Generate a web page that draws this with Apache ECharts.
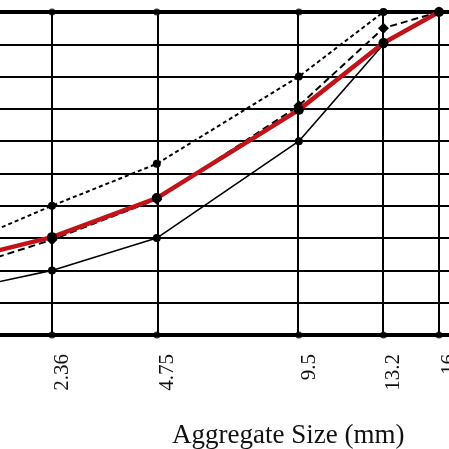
<!DOCTYPE html>
<html>
<head>
<meta charset="utf-8">
<script src="https://cdn.jsdelivr.net/npm/echarts@6/dist/echarts.min.js"></script>
<style>
html,body{margin:0;padding:0;background:#fff}
#main{width:449px;height:449px}
</style>
</head>
<body>
<div id="main"></div>
<script>
// sieve sizes (mm) and percent passing
var sizes = [1.18, 2.36, 4.75, 9.5, 13.2, 16];
var upperLimit = [30, 40, 53, 80, 100, 100];
var lowerLimit = [15, 20, 30, 60, 90, 100];
var midDashed = [22, 29.5, 42, 71, 95, 100];
var designMix = [24.5, 30.3, 42.4, 69.7, 90.4, 100];
var tickSizes = [2.36, 4.75, 9.5, 13.2, 16];
var tickLabels = ['2.36', '4.75', '9.5', '13.2', '16'];

// 0.45 power gradation scale
function p45(s){ return Math.pow(s, 0.45); }

function pairs(vals){
	var a = [];
	for (var i = 0; i < sizes.length; i++) a.push([p45(sizes[i]), vals[i]]);
	return a;
}

function labelFor(v){
	var best = 0;
	for (var i = 0; i < tickSizes.length; i++) {
		if (Math.abs(p45(tickSizes[i]) - v) < Math.abs(p45(tickSizes[best]) - v)) best = i;
	}
	return tickLabels[best];
}

var tickX = tickSizes.map(p45);
var serif = '"Liberation Serif", "DejaVu Serif", serif';

var option = {
	animation: false,
	backgroundColor: '#fff',
	title: {
		text: 'Aggregate Size (mm)',
		left: 167,
		top: 417,
		textStyle: { fontFamily: serif, fontSize: 27, fontWeight: 'normal', color: '#111' }
	},
	grid: { left: 0, right: 0, top: 12, bottom: 114, outerBoundsMode: 'none', containLabel: false },
	xAxis: [{
		type: 'value',
		min: 1.2016,
		max: 3.5341,
		axisLine: { show: true, lineStyle: { color: '#000', width: 4 } },
		axisTick: { show: false },
		splitLine: { show: false },
		axisLabel: {
			customValues: tickX,
			rotate: 90,
			margin: 19,
			verticalAlign: 'top',
			fontFamily: serif,
			fontSize: 21,
			color: '#111',
			hideOverlap: false,
			formatter: labelFor
		}
	}],
	yAxis: {
		type: 'value',
		min: 0,
		max: 100,
		interval: 10,
		axisLine: { show: false },
		axisTick: { show: false },
		axisLabel: { show: false },
		splitLine: { lineStyle: { color: '#000', width: 2 } }
	},
	series: [
		{
			// tick dots, vertical grid lines and top border
			type: 'scatter',
			data: tickX.map(function(x){ return [x, 0]; }).concat(tickX.map(function(x){ return [x, 100]; })),
			symbol: 'circle',
			symbolSize: 7,
			itemStyle: { color: '#000' },
			silent: true,
			markLine: {
				silent: true,
				symbol: 'none',
				label: { show: false },
				lineStyle: { color: '#000', width: 2, type: 'solid' },
				data: tickX.map(function(x){ return { xAxis: x }; }).concat([{ yAxis: 100, lineStyle: { width: 4 } }])
			},
			z: 3
		},
		{
			type: 'line',
			data: pairs(midDashed),
			symbol: 'diamond',
			symbolSize: 11,
			itemStyle: { color: '#000' },
			lineStyle: { color: '#000', width: 2, type: [7, 4] },
			z: 4
		},
		{
			type: 'line',
			data: pairs(lowerLimit),
			symbol: 'circle',
			symbolSize: 8,
			itemStyle: { color: '#000' },
			lineStyle: { color: '#000', width: 1.6 },
			z: 4
		},
		{
			type: 'line',
			data: pairs(upperLimit),
			symbol: 'circle',
			symbolSize: 8,
			itemStyle: { color: '#000' },
			lineStyle: { color: '#000', width: 2, type: [4, 3] },
			z: 4
		},
		{
			type: 'line',
			data: pairs(designMix),
			symbol: 'circle',
			symbolSize: 10,
			itemStyle: { color: '#000' },
			lineStyle: { color: '#c0141a', width: 4.5 },
			z: 5
		}
	]
};

var myChart = echarts.init(document.getElementById('main'));
myChart.setOption(option);
</script>
</body>
</html>
